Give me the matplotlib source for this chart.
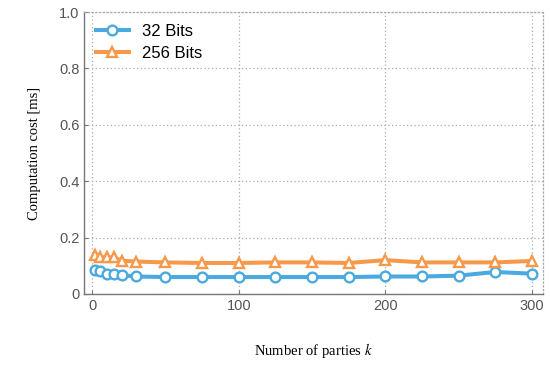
import matplotlib.pyplot as plt

plt.rcParams["mathtext.fontset"] = "stix"

# data
parties = [2, 5, 10, 15, 20, 30, 50, 75, 100, 125, 150, 175, 200, 225, 250, 275, 300]
cost_32 = [0.085, 0.080, 0.072, 0.070, 0.067, 0.062, 0.060, 0.060, 0.060, 0.060,
           0.060, 0.060, 0.062, 0.062, 0.065, 0.078, 0.072]
cost_256 = [0.138, 0.132, 0.130, 0.130, 0.118, 0.115, 0.112, 0.110, 0.110, 0.112,
            0.112, 0.110, 0.120, 0.112, 0.112, 0.112, 0.117]
x_ticks = [0, 100, 200, 300]
y_ticks = [0, 0.2, 0.4, 0.6, 0.8, 1.0]
y_tick_labels = ["0", "0.2", "0.4", "0.6", "0.8", "1.0"]

blue = "#4aa9de"
orange = "#f7994a"
grey = "#777777"

fig = plt.figure(figsize=(5.5, 3.67), dpi=100)
ax = fig.add_axes([0.153, 0.199, 0.834, 0.768])

ax.plot(parties, cost_32, color=blue, lw=2.9, marker="o", ms=7,
        mfc="white", mec=blue, mew=1.7, label="32 Bits")
ax.plot(parties, cost_256, color=orange, lw=2.9, marker="^", ms=7.5,
        mfc="white", mec=orange, mew=1.7, label="256 Bits")

ax.set_xlim(-5.5, 307.5)
ax.set_ylim(0, 1.0)
ax.set_xticks(x_ticks)
ax.set_yticks(y_ticks)
ax.set_yticklabels(y_tick_labels)
ax.grid(True, color="#aaaaaa", ls=(0, (1, 2)), lw=0.9)

for s in ["left", "bottom"]:
    ax.spines[s].set_color(grey)
    ax.spines[s].set_linewidth(1.0)
for s in ["top", "right"]:
    ax.spines[s].set_color("#aaaaaa")
    ax.spines[s].set_linestyle((0, (1, 2)))
    ax.spines[s].set_linewidth(0.9)

ax.tick_params(direction="in", length=3, color=grey, labelcolor="#555555",
               labelsize=10.5)
for lab in ax.get_xticklabels() + ax.get_yticklabels():
    lab.set_family("Liberation Sans")

ax.set_xlabel("Number of parties $k$", family="Liberation Serif", fontsize=10.5,
              labelpad=20)
ax.set_ylabel("Computation cost [ms]", family="Liberation Serif", fontsize=10.5,
              labelpad=13)

leg = ax.legend(loc="upper left", frameon=False, prop={"family": "Liberation Sans", "size": 12},
                handlelength=2.0, borderaxespad=0.3, labelspacing=0.45)

fig.savefig("out.png", dpi=100)
